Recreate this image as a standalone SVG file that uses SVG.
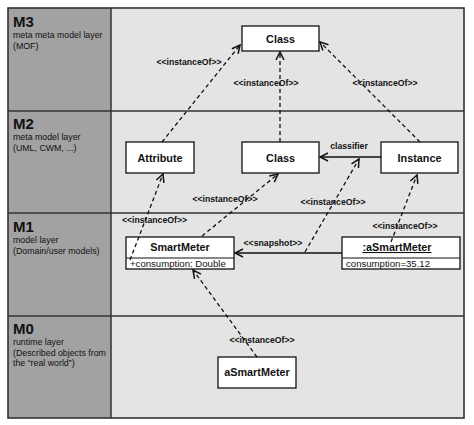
<svg xmlns="http://www.w3.org/2000/svg" width="474" height="425" viewBox="0 0 474 425">
<defs>
<marker id="arr" viewBox="0 0 10 10" refX="9" refY="5" markerWidth="10" markerHeight="10" markerUnits="userSpaceOnUse" orient="auto">
<path d="M1,1 L9,5 L1,9" fill="none" stroke="#111" stroke-width="1.5"/>
</marker>
<style>
.lay{font-family:"Liberation Sans",Arial,sans-serif;fill:#111}
.lt{font-size:15px;font-weight:bold}
.ld{font-size:8.8px}
.box{fill:#fff;stroke:#111;stroke-width:1.3}
.nt{font-family:"Liberation Sans",Arial,sans-serif;font-size:10.8px;font-weight:bold;fill:#111;text-anchor:middle}
.at{font-family:"Liberation Sans",Arial,sans-serif;font-size:9.6px;fill:#111}
.dash{fill:none;stroke:#111;stroke-width:1.3;stroke-dasharray:4 3;marker-end:url(#arr)}
.solid{fill:none;stroke:#111;stroke-width:1.5;marker-end:url(#arr)}
.lbl{font-family:"Liberation Sans",Arial,sans-serif;font-size:8.7px;font-weight:bold;fill:#111;text-anchor:middle}
</style>
</defs>
<rect x="0" y="0" width="474" height="425" fill="#fff"/>
<g id="frame">
<rect x="8" y="8" width="456" height="410" fill="#e4e4e4"/>
<rect x="8" y="8" width="103" height="410" fill="#a2a2a2"/>
<line x1="111" y1="8" x2="111" y2="418" stroke="#333" stroke-width="1.5"/>
<line x1="8" y1="111" x2="464" y2="111" stroke="#333" stroke-width="1.5"/>
<line x1="8" y1="213" x2="464" y2="213" stroke="#333" stroke-width="1.5"/>
<line x1="8" y1="316" x2="464" y2="316" stroke="#333" stroke-width="1.5"/>
<rect x="8" y="8" width="456" height="410" fill="none" stroke="#333" stroke-width="1.6"/>
</g>
<g id="layer-m3" class="lay">
<text x="13" y="27" class="lay lt">M3</text>
<text x="13" y="38" class="lay ld">meta meta model layer</text>
<text x="13" y="48.5" class="lay ld">(MOF)</text>
</g>
<g id="layer-m2" class="lay">
<text x="13" y="129" class="lay lt">M2</text>
<text x="13" y="140" class="lay ld">meta model layer</text>
<text x="13" y="150.5" class="lay ld">(UML, CWM, ...)</text>
</g>
<g id="layer-m1" class="lay">
<text x="13" y="232" class="lay lt">M1</text>
<text x="13" y="243" class="lay ld">model layer</text>
<text x="13" y="253.5" class="lay ld">(Domain/user models)</text>
</g>
<g id="layer-m0" class="lay">
<text x="13" y="334" class="lay lt">M0</text>
<text x="13" y="345" class="lay ld">runtime layer</text>
<text x="13" y="355.5" class="lay ld">(Described objects from</text>
<text x="13" y="366" class="lay ld">the “real world”)</text>
</g>
<g id="class-m3">
<rect x="242" y="26" width="77" height="25" class="box"/>
<text x="280.5" y="42.5" class="nt">Class</text>
</g>
<g id="attribute">
<rect x="126" y="142" width="68" height="31" class="box"/>
<text x="160" y="161.5" class="nt">Attribute</text>
</g>
<g id="class-m2">
<rect x="242" y="142" width="77" height="31" class="box"/>
<text x="280.5" y="161.5" class="nt">Class</text>
</g>
<g id="instance">
<rect x="381" y="142" width="77" height="31" class="box"/>
<text x="419.5" y="161.5" class="nt">Instance</text>
</g>
<g id="smartmeter">
<rect x="126" y="237" width="108" height="32" class="box"/>
<line x1="126" y1="258" x2="234" y2="258" stroke="#111" stroke-width="1.2"/>
<text x="180" y="251" class="nt">SmartMeter</text>
<text x="130" y="266.5" class="at">+consumption: Double</text>
</g>
<g id="asmartmeter-m1">
<rect x="342" y="237" width="118" height="32" class="box"/>
<line x1="342" y1="258" x2="460" y2="258" stroke="#111" stroke-width="1.2"/>
<text x="397" y="251" class="nt" text-decoration="underline">:aSmartMeter</text>
<text x="346" y="266.5" class="at">consumption=35.12</text>
</g>
<g id="asmartmeter-m0">
<rect x="218" y="357" width="78" height="31" class="box"/>
<text x="257" y="376" class="nt">aSmartMeter</text>
</g>
<g id="connectors">
<line x1="162" y1="142" x2="240" y2="45" class="dash"/>
<line x1="280" y1="142" x2="280" y2="52" class="dash"/>
<line x1="420" y1="142" x2="320" y2="42" class="dash"/>
<line x1="381" y1="157" x2="320" y2="157" class="solid"/>
<line x1="130" y1="260" x2="163" y2="174" class="dash"/>
<line x1="202" y1="236" x2="278" y2="174" class="dash"/>
<line x1="342" y1="253" x2="235" y2="253" class="solid"/>
<line x1="305" y1="252" x2="359" y2="159" class="dash"/>
<line x1="391" y1="242" x2="417" y2="175" class="dash"/>
<line x1="257" y1="357" x2="193" y2="270" class="dash"/>
<text x="189" y="65" class="lbl">&lt;&lt;instanceOf&gt;&gt;</text>
<text x="266" y="86" class="lbl">&lt;&lt;instanceOf&gt;&gt;</text>
<text x="385" y="86" class="lbl">&lt;&lt;instanceOf&gt;&gt;</text>
<text x="349" y="149" class="lbl">classifier</text>
<text x="225" y="202" class="lbl">&lt;&lt;instanceOf&gt;&gt;</text>
<text x="333" y="205" class="lbl">&lt;&lt;instanceOf&gt;&gt;</text>
<text x="154.5" y="223" class="lbl">&lt;&lt;instanceOf&gt;&gt;</text>
<text x="405" y="229" class="lbl">&lt;&lt;instanceOf&gt;&gt;</text>
<text x="273" y="246" class="lbl">&lt;&lt;snapshot&gt;&gt;</text>
<text x="262" y="343" class="lbl">&lt;&lt;instanceOf&gt;&gt;</text>
</g>
</svg>
